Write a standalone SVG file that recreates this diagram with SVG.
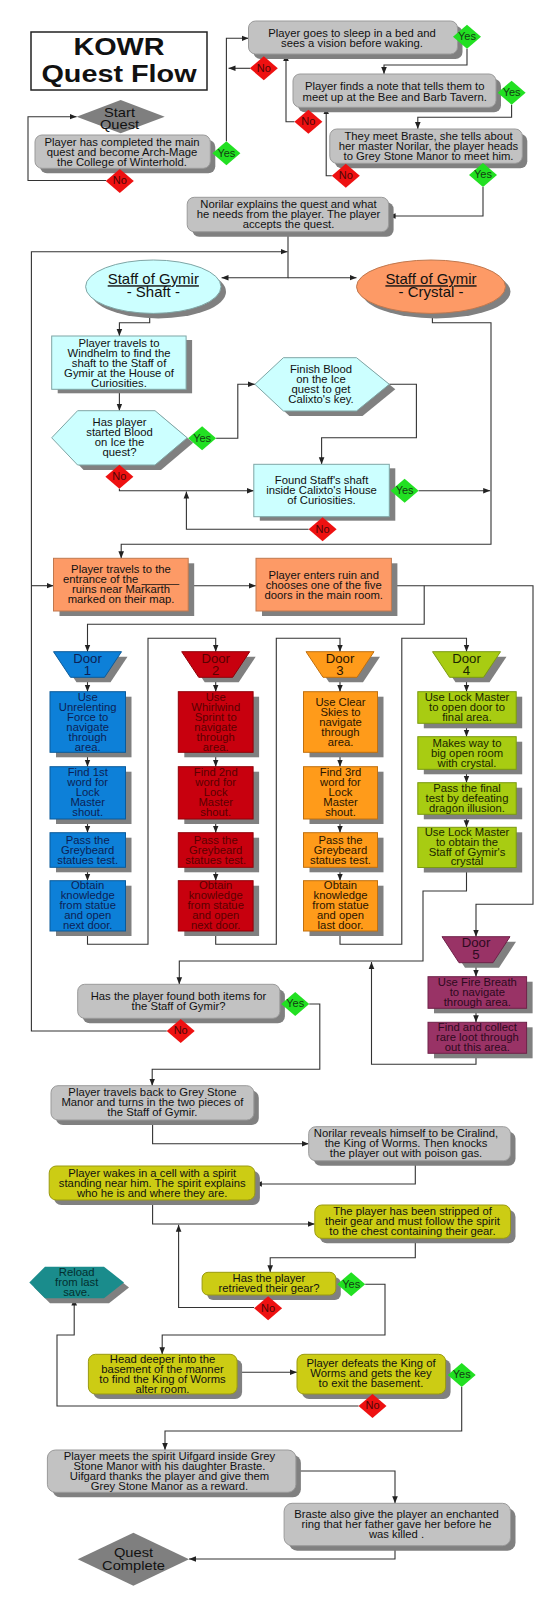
<svg xmlns="http://www.w3.org/2000/svg" width="559" height="1600" viewBox="0 0 559 1600">
<defs>
<marker id="ah" viewBox="0 0 10 10" refX="10" refY="5" markerWidth="7" markerHeight="7" orient="auto" markerUnits="userSpaceOnUse"><path d="M0,1 L10,5 L0,9 z" fill="#222"/></marker>
<style>
.ln{fill:none;stroke:#333;stroke-width:1.1;marker-end:url(#ah)}
.sh{fill:#808080}
.gray{fill:#c2c2c2;stroke:#9a9a9a;stroke-width:1}
.yel{fill:#cccc14;stroke:#9a9a10;stroke-width:1}
.cyan{fill:#ccffff;stroke:#7fa5a5;stroke-width:1}
.org{fill:#fd9a66;stroke:#c0784e;stroke-width:1}
.blue{fill:#0d80d8;stroke:#0a5a9a;stroke-width:1}
.red{fill:#c8000e;stroke:#900008;stroke-width:1}
.ora{fill:#ff9b1a;stroke:#c07010;stroke-width:1}
.lim{fill:#a8cc12;stroke:#7a9a10;stroke-width:1}
.pur{fill:#993366;stroke:#6e2249;stroke-width:1}
.teal{fill:#1a8c8c}
.dk{fill:#7f7f7f}
.yes{fill:#22e022}
.no{fill:#ee1111}
.t{font-family:"Liberation Sans",Arial,sans-serif;font-size:10px;text-anchor:middle;fill:#111}
.td{font-family:"Liberation Sans",Arial,sans-serif;font-size:12px;text-anchor:middle}
.tb{fill:#0c1f55}.tr{fill:#5a0000}.to{fill:#2a1500}.tl{fill:#1a2600}.tp{fill:#2e0a20}.tt{fill:#032f2f}
.ty{fill:#123d12}.tn{fill:#4d0606}
.big{font-family:"Liberation Sans",Arial,sans-serif;font-size:24px;font-weight:bold;text-anchor:middle;fill:#111}
.mid{font-family:"Liberation Sans",Arial,sans-serif;font-size:13px;text-anchor:middle;fill:#111}
.ell{font-family:"Liberation Sans",Arial,sans-serif;font-size:14px;text-anchor:middle;fill:#111}
</style>
</defs>
<rect width="559" height="1600" fill="#ffffff"/>

<g id="connectors">
<path class="ln" d="M106 180.5 H28 V116.7 H76.6"/>
<path class="ln" d="M226.4 141.3 V38.3 H248.5"/>
<path class="ln" d="M250 68.3 H228.5"/>
<path class="ln" d="M467 48.7 V65 H384 V74"/>
<path class="ln" d="M294.4 121.7 H286 V54"/>
<path class="ln" d="M511.6 104.7 V117.3 H417.8 V129"/>
<path class="ln" d="M331.8 175.7 H326.2 V107.3"/>
<path class="ln" d="M483 187 V216 H388.6"/>
<path class="ln" d="M288 231.7 V277.7 H221.5"/>
<path class="ln" d="M288 277.7 H356.5"/>
<path class="ln" d="M166.7 1031 H31.4 V251.7 H287.5"/>
<path class="ln" d="M31.4 585.7 H53.5"/>
<path class="ln" d="M149.7 313.4 V322.7 H119.4 V336"/>
<path class="ln" d="M119.4 389.3 V410.7"/>
<path class="ln" d="M216.1 438.3 H237.8 V384.3 H254.9"/>
<path class="ln" d="M389.3 384.3 H416.4 V437.7 H321.6 V464.3"/>
<path class="ln" d="M119.4 488.7 V490.7 H253.8"/>
<path class="ln" d="M418.6 490.7 H490.2"/>
<path class="ln" d="M308.6 529.3 H186.4 V491.5"/>
<path class="ln" d="M432.4 313.4 V322.7 H491 V544.3 H121.2 V558.3"/>
<path class="ln" d="M188.2 585.7 H256"/>
<path class="ln" d="M391.4 585.7 H533 V904.3 H476 V936.7"/>
<path class="ln" d="M424.2 585.7 V624.3 H87.5 V651.7"/>
<path class="ln" d="M87.5 677.3 V691.7"/>
<path class="ln" d="M87.5 752.3 V766.7"/>
<path class="ln" d="M87.5 819 V832.7"/>
<path class="ln" d="M87.5 867.3 V880.7"/>
<path class="ln" d="M87.5 931 V944.3 H148 V638.3 H215.7 V651.7"/>
<path class="ln" d="M215.7 677.3 V691.7"/>
<path class="ln" d="M215.7 752.3 V766.7"/>
<path class="ln" d="M215.7 819 V832.7"/>
<path class="ln" d="M215.7 867.3 V880.7"/>
<path class="ln" d="M215.7 931 V944.3 H276.3 V638.3 H340 V651.7"/>
<path class="ln" d="M340 677.3 V691.7"/>
<path class="ln" d="M340 752.3 V766.7"/>
<path class="ln" d="M340 819 V832.7"/>
<path class="ln" d="M340 867.3 V880.7"/>
<path class="ln" d="M340 931 V944.3 H401.8 V638.3 H466.5 V651.7"/>
<path class="ln" d="M466.5 677.3 V691.7"/>
<path class="ln" d="M466.5 723.3 V736.7"/>
<path class="ln" d="M466.5 769.3 V782.7"/>
<path class="ln" d="M466.5 814.3 V827.3"/>
<path class="ln" d="M466.5 867.5 V891 H423 V961 H179.3 V984.3"/>
<path class="ln" d="M476 962.7 V976.7"/>
<path class="ln" d="M476 1008.3 V1022.3"/>
<path class="ln" d="M476 1053.3 V1064.3 H371.5 V962"/>
<path class="ln" d="M309.2 1004 H319.8 V1069.3 H152.2 V1085.7"/>
<path class="ln" d="M152.6 1120 V1143.7 H308.7"/>
<path class="ln" d="M415.3 1160.7 V1184 H254.9"/>
<path class="ln" d="M152.6 1200 V1224 H314.8"/>
<path class="ln" d="M415.3 1238.3 V1257.7 H270.2 V1272.3"/>
<path class="ln" d="M365.2 1284.3 H385 V1335 H162.2 V1354.3"/>
<path class="ln" d="M254.1 1307.5 H178.6 V1224.8"/>
<path class="ln" d="M237.1 1372.3 H297"/>
<path class="ln" d="M358.5 1406 H57 V1335 H74.2 V1298.5"/>
<path class="ln" d="M461.7 1387 V1431 H165 V1450"/>
<path class="ln" d="M295.9 1471 H395 V1503.3"/>
<path class="ln" d="M395 1545.7 V1559 H189"/>
</g>

<g id="title">
<rect x="31" y="32" width="176" height="58" fill="#ffffff" stroke="#222" stroke-width="1.5"/>
<text class="big" transform="translate(119 0) scale(1.2 1)"><tspan x="0" y="55">KOWR</tspan><tspan x="0" y="82">Quest Flow</tspan></text>
</g>

<g id="start">
<polygon class="dk" points="76.6,116.7 120.7,100 164.7,116.7 120.7,133.3"/>
<text class="mid" transform="translate(119.5 0) scale(1.13 1)"><tspan x="0" y="117">Start</tspan><tspan x="0" y="129.5">Quest</tspan></text>
</g>

<g id="n-complete">
<rect class="sh" x="40" y="140" width="175.3" height="33.3" rx="7"/>
<rect class="gray" x="35" y="135" width="175.3" height="33.3" rx="7"/>
<text class="t" transform="translate(122 0) scale(1.13 1)"><tspan x="0" y="145.8">Player has completed the main</tspan><tspan x="0" y="155.8">quest and become Arch-Mage</tspan><tspan x="0" y="165.8">the College of Winterhold.</tspan></text>
</g>

<g id="n-sleep">
<rect class="sh" x="253.5" y="26" width="209" height="33" rx="7"/>
<rect class="gray" x="248.5" y="21" width="209" height="33" rx="7"/>
<text class="t" transform="translate(352 0) scale(1.13 1)"><tspan x="0" y="36.8">Player goes to sleep in a bed and</tspan><tspan x="0" y="46.8">sees a vision before waking.</tspan></text>
</g>

<g id="n-note">
<rect class="sh" x="298" y="79" width="203" height="33.3" rx="7"/>
<rect class="gray" x="293" y="74" width="203" height="33.3" rx="7"/>
<text class="t" transform="translate(394.7 0) scale(1.13 1)"><tspan x="0" y="90.4">Player finds a note that tells them to</tspan><tspan x="0" y="100.6">meet up at the Bee and Barb Tavern.</tspan></text>
</g>

<g id="n-braste">
<rect class="sh" x="334.8" y="134" width="192.5" height="34.3" rx="7"/>
<rect class="gray" x="329.8" y="129" width="192.5" height="34.3" rx="7"/>
<text class="t" transform="translate(428.5 0) scale(1.13 1)"><tspan x="0" y="140.2">They meet Braste, she tells about</tspan><tspan x="0" y="150.2">her master Norilar, the player heads</tspan><tspan x="0" y="160.2">to Grey Stone Manor to meet him.</tspan></text>
</g>

<g id="n-norilar">
<rect class="sh" x="192.2" y="202.3" width="201.4" height="34.4" rx="7"/>
<rect class="gray" x="187.2" y="197.3" width="201.4" height="34.4" rx="7"/>
<text class="t" transform="translate(288.5 0) scale(1.13 1)"><tspan x="0" y="207.6">Norilar explains the quest and what</tspan><tspan x="0" y="217.8">he needs from the player. The player</tspan><tspan x="0" y="227.8">accepts the quest.</tspan></text>
</g>

<g id="n-shaft">
<ellipse class="sh" cx="158.3" cy="291.7" rx="67.7" ry="26.7"/>
<ellipse class="cyan" cx="153.3" cy="286.7" rx="67.7" ry="26.7"/>
<text class="ell" transform="translate(153.3 0) scale(1.07 1)"><tspan x="0" y="284.3" text-decoration="underline">Staff of Gymir</tspan><tspan x="0" y="297.5">- Shaft -</tspan></text>
</g>

<g id="n-crystal">
<ellipse class="sh" cx="436" cy="291.7" rx="74.5" ry="26.7"/>
<ellipse class="org" cx="431" cy="286.7" rx="74.5" ry="26.7"/>
<text class="ell" transform="translate(431 0) scale(1.07 1)"><tspan x="0" y="284.3" text-decoration="underline">Staff of Gymir</tspan><tspan x="0" y="297.5">- Crystal -</tspan></text>
</g>

<g id="n-windhelm">
<rect class="sh" x="57.7" y="340" width="134.4" height="53.3"/>
<rect class="cyan" x="51.7" y="336" width="134.4" height="53.3"/>
<text class="t" transform="translate(119 0) scale(1.13 1)"><tspan x="0" y="346.8">Player travels to</tspan><tspan x="0" y="356.8">Windhelm to find the</tspan><tspan x="0" y="366.8">shaft to the Staff of</tspan><tspan x="0" y="376.8">Gymir at the House of</tspan><tspan x="0" y="386.8">Curiosities.</tspan></text>
</g>

<g id="n-hasplayer">
<polygon class="sh" points="57.7,442.8 83.6,415.7 161,415.7 193.2,442.8 161,470 83.6,470"/>
<polygon class="cyan" points="51.7,437.8 77.6,410.7 155,410.7 187.2,437.8 155,465 77.6,465"/>
<text class="t" transform="translate(119.5 0) scale(1.13 1)"><tspan x="0" y="426.2">Has player</tspan><tspan x="0" y="436.2">started Blood</tspan><tspan x="0" y="446.2">on Ice the</tspan><tspan x="0" y="456.2">quest?</tspan></text>
</g>

<g id="n-finish">
<polygon class="sh" points="260.9,389.3 289.4,362.7 362.5,362.7 395.3,389.3 362.5,416 289.4,416"/>
<polygon class="cyan" points="254.9,384.3 283.4,357.7 356.5,357.7 389.3,384.3 356.5,411 283.4,411"/>
<text class="t" transform="translate(321 0) scale(1.13 1)"><tspan x="0" y="372.8">Finish Blood</tspan><tspan x="0" y="382.8">on the Ice</tspan><tspan x="0" y="392.8">quest to get</tspan><tspan x="0" y="402.8">Calixto's key.</tspan></text>
</g>

<g id="n-found">
<rect class="sh" x="259.8" y="468.3" width="135.5" height="52.4"/>
<rect class="cyan" x="253.8" y="464.3" width="135.5" height="52.4"/>
<text class="t" transform="translate(321.5 0) scale(1.13 1)"><tspan x="0" y="484.2">Found Staff's shaft</tspan><tspan x="0" y="494.2">inside Calixto's House</tspan><tspan x="0" y="504.2">of Curiosities.</tspan></text>
</g>

<g id="n-travel-ruins">
<rect class="sh" x="59.5" y="563.3" width="134.7" height="52.7"/>
<rect class="org" x="53.5" y="558.3" width="134.7" height="52.7"/>
<text class="t" transform="translate(121 0) scale(1.13 1)"><tspan x="0" y="573.5">Player travels to the</tspan><tspan x="0" y="583.5">entrance of the ______</tspan><tspan x="0" y="593.5">ruins near Markarth</tspan><tspan x="0" y="603.5">marked on their map.</tspan></text>
</g>

<g id="n-enter-ruin">
<rect class="sh" x="262" y="563.3" width="135.4" height="52.7"/>
<rect class="org" x="256" y="558.3" width="135.4" height="52.7"/>
<text class="t" transform="translate(323.7 0) scale(1.13 1)"><tspan x="0" y="579.2">Player enters ruin and</tspan><tspan x="0" y="589.2">chooses one of the five</tspan><tspan x="0" y="599.2">doors in the main room.</tspan></text>
</g>

<g id="door1">
<polygon class="sh" points="59.5,656.7 127.5,656.7 110.5,682.3 76.5,682.3"/>
<polygon class="blue" points="53.5,651.7 121.5,651.7 104.5,677.3 70.5,677.3"/>
<text class="td tb" transform="translate(87.5 0) scale(1.1 1)"><tspan x="0" y="663.2">Door</tspan><tspan x="0" y="674.9">1</tspan></text>
</g>
<g id="d1-b1">
<rect class="sh" x="56" y="696.7" width="75.5" height="60.6"/>
<rect class="blue" x="50" y="691.7" width="75.5" height="60.6"/>
<text class="t tb" transform="translate(87.7 0) scale(1.13 1)"><tspan x="0" y="700.8">Use</tspan><tspan x="0" y="710.8">Unrelenting</tspan><tspan x="0" y="720.8">Force to</tspan><tspan x="0" y="730.8">navigate</tspan><tspan x="0" y="740.8">through</tspan><tspan x="0" y="750.8">area.</tspan></text>
</g>
<g id="d1-b2">
<rect class="sh" x="56" y="771.7" width="75.5" height="52.3"/>
<rect class="blue" x="50" y="766.7" width="75.5" height="52.3"/>
<text class="t tb" transform="translate(87.7 0) scale(1.13 1)"><tspan x="0" y="776.2">Find 1st</tspan><tspan x="0" y="786.2">word for</tspan><tspan x="0" y="796.2">Lock</tspan><tspan x="0" y="806.2">Master</tspan><tspan x="0" y="816.2">shout.</tspan></text>
</g>
<g id="d1-b3">
<rect class="sh" x="56" y="837.7" width="75.5" height="34.6"/>
<rect class="blue" x="50" y="832.7" width="75.5" height="34.6"/>
<text class="t tb" transform="translate(87.7 0) scale(1.13 1)"><tspan x="0" y="844">Pass the</tspan><tspan x="0" y="854">Greybeard</tspan><tspan x="0" y="864">statues test.</tspan></text>
</g>
<g id="d1-b4">
<rect class="sh" x="56" y="885.7" width="75.5" height="50.3"/>
<rect class="blue" x="50" y="880.7" width="75.5" height="50.3"/>
<text class="t tb" transform="translate(87.7 0) scale(1.13 1)"><tspan x="0" y="889.5">Obtain</tspan><tspan x="0" y="899.5">knowledge</tspan><tspan x="0" y="909.5">from statue</tspan><tspan x="0" y="919.5">and open</tspan><tspan x="0" y="929.5">next door.</tspan></text>
</g>

<g id="door2">
<polygon class="sh" points="187.7,656.7 255.7,656.7 238.7,682.3 204.7,682.3"/>
<polygon class="red" points="181.7,651.7 249.7,651.7 232.7,677.3 198.7,677.3"/>
<text class="td tr" transform="translate(215.7 0) scale(1.1 1)"><tspan x="0" y="663.2">Door</tspan><tspan x="0" y="674.9">2</tspan></text>
</g>
<g id="d2-b1">
<rect class="sh" x="184.3" y="696.7" width="74.8" height="60.6"/>
<rect class="red" x="178.3" y="691.7" width="74.8" height="60.6"/>
<text class="t tr" transform="translate(215.7 0) scale(1.13 1)"><tspan x="0" y="700.8">Use</tspan><tspan x="0" y="710.8">Whirlwind</tspan><tspan x="0" y="720.8">Sprint to</tspan><tspan x="0" y="730.8">navigate</tspan><tspan x="0" y="740.8">through</tspan><tspan x="0" y="750.8">area.</tspan></text>
</g>
<g id="d2-b2">
<rect class="sh" x="184.3" y="771.7" width="74.8" height="52.3"/>
<rect class="red" x="178.3" y="766.7" width="74.8" height="52.3"/>
<text class="t tr" transform="translate(215.7 0) scale(1.13 1)"><tspan x="0" y="776.2">Find 2nd</tspan><tspan x="0" y="786.2">word for</tspan><tspan x="0" y="796.2">Lock</tspan><tspan x="0" y="806.2">Master</tspan><tspan x="0" y="816.2">shout.</tspan></text>
</g>
<g id="d2-b3">
<rect class="sh" x="184.3" y="837.7" width="74.8" height="34.6"/>
<rect class="red" x="178.3" y="832.7" width="74.8" height="34.6"/>
<text class="t tr" transform="translate(215.7 0) scale(1.13 1)"><tspan x="0" y="844">Pass the</tspan><tspan x="0" y="854">Greybeard</tspan><tspan x="0" y="864">statues test.</tspan></text>
</g>
<g id="d2-b4">
<rect class="sh" x="184.3" y="885.7" width="74.8" height="50.3"/>
<rect class="red" x="178.3" y="880.7" width="74.8" height="50.3"/>
<text class="t tr" transform="translate(215.7 0) scale(1.13 1)"><tspan x="0" y="889.5">Obtain</tspan><tspan x="0" y="899.5">knowledge</tspan><tspan x="0" y="909.5">from statue</tspan><tspan x="0" y="919.5">and open</tspan><tspan x="0" y="929.5">next door.</tspan></text>
</g>

<g id="door3">
<polygon class="sh" points="312,656.7 380,656.7 363,682.3 329,682.3"/>
<polygon class="ora" points="306,651.7 374,651.7 357,677.3 323,677.3"/>
<text class="td to" transform="translate(340 0) scale(1.1 1)"><tspan x="0" y="663.2">Door</tspan><tspan x="0" y="674.9">3</tspan></text>
</g>
<g id="d3-b1">
<rect class="sh" x="309.5" y="696.7" width="74" height="60.6"/>
<rect class="ora" x="303.5" y="691.7" width="74" height="60.6"/>
<text class="t to" transform="translate(340.5 0) scale(1.13 1)"><tspan x="0" y="705.8">Use Clear</tspan><tspan x="0" y="715.8">Skies to</tspan><tspan x="0" y="725.8">navigate</tspan><tspan x="0" y="735.8">through</tspan><tspan x="0" y="745.8">area.</tspan></text>
</g>
<g id="d3-b2">
<rect class="sh" x="309.5" y="771.7" width="74" height="52.3"/>
<rect class="ora" x="303.5" y="766.7" width="74" height="52.3"/>
<text class="t to" transform="translate(340.5 0) scale(1.13 1)"><tspan x="0" y="776.2">Find 3rd</tspan><tspan x="0" y="786.2">word for</tspan><tspan x="0" y="796.2">Lock</tspan><tspan x="0" y="806.2">Master</tspan><tspan x="0" y="816.2">shout.</tspan></text>
</g>
<g id="d3-b3">
<rect class="sh" x="309.5" y="837.7" width="74" height="34.6"/>
<rect class="ora" x="303.5" y="832.7" width="74" height="34.6"/>
<text class="t to" transform="translate(340.5 0) scale(1.13 1)"><tspan x="0" y="844">Pass the</tspan><tspan x="0" y="854">Greybeard</tspan><tspan x="0" y="864">statues test.</tspan></text>
</g>
<g id="d3-b4">
<rect class="sh" x="309.5" y="885.7" width="74" height="50.3"/>
<rect class="ora" x="303.5" y="880.7" width="74" height="50.3"/>
<text class="t to" transform="translate(340.5 0) scale(1.13 1)"><tspan x="0" y="889.5">Obtain</tspan><tspan x="0" y="899.5">knowledge</tspan><tspan x="0" y="909.5">from statue</tspan><tspan x="0" y="919.5">and open</tspan><tspan x="0" y="929.5">last door.</tspan></text>
</g>

<g id="door4">
<polygon class="sh" points="438.5,656.7 506.5,656.7 489.5,682.3 455.5,682.3"/>
<polygon class="lim" points="432.5,651.7 500.5,651.7 483.5,677.3 449.5,677.3"/>
<text class="td tl" transform="translate(466.5 0) scale(1.1 1)"><tspan x="0" y="663.2">Door</tspan><tspan x="0" y="674.9">4</tspan></text>
</g>
<g id="d4-b1">
<rect class="sh" x="423.8" y="696.7" width="98.4" height="31.6"/>
<rect class="lim" x="417.8" y="691.7" width="98.4" height="31.6"/>
<text class="t tl" transform="translate(467 0) scale(1.13 1)"><tspan x="0" y="701">Use Lock Master</tspan><tspan x="0" y="711">to open door to</tspan><tspan x="0" y="721">final area.</tspan></text>
</g>
<g id="d4-b2">
<rect class="sh" x="423.8" y="741.7" width="98.4" height="32.6"/>
<rect class="lim" x="417.8" y="736.7" width="98.4" height="32.6"/>
<text class="t tl" transform="translate(467 0) scale(1.13 1)"><tspan x="0" y="746.8">Makes way to</tspan><tspan x="0" y="756.8">big open room</tspan><tspan x="0" y="766.8">with crystal.</tspan></text>
</g>
<g id="d4-b3">
<rect class="sh" x="423.8" y="787.7" width="98.4" height="31.6"/>
<rect class="lim" x="417.8" y="782.7" width="98.4" height="31.6"/>
<text class="t tl" transform="translate(467 0) scale(1.13 1)"><tspan x="0" y="791.8">Pass the final</tspan><tspan x="0" y="801.8">test by defeating</tspan><tspan x="0" y="811.8">dragon illusion.</tspan></text>
</g>
<g id="d4-b4">
<rect class="sh" x="423.8" y="832.3" width="98.4" height="40.2"/>
<rect class="lim" x="417.8" y="827.3" width="98.4" height="40.2"/>
<text class="t tl" transform="translate(467 0) scale(1.13 1)"><tspan x="0" y="835.8">Use Lock Master</tspan><tspan x="0" y="845.8">to obtain the</tspan><tspan x="0" y="855.8">Staff of Gymir's</tspan><tspan x="0" y="865.3">crystal</tspan></text>
</g>

<g id="door5">
<polygon class="sh" points="448,941.7 516,941.7 499,967.7 465,967.7"/>
<polygon class="pur" points="442,936.7 510,936.7 493,962.7 459,962.7"/>
<text class="td tp" transform="translate(476 0) scale(1.1 1)"><tspan x="0" y="947.5">Door</tspan><tspan x="0" y="959.2">5</tspan></text>
</g>
<g id="d5-b1">
<rect class="sh" x="434" y="981.7" width="98.6" height="31.6"/>
<rect class="pur" x="428" y="976.7" width="98.6" height="31.6"/>
<text class="t tp" transform="translate(477.3 0) scale(1.13 1)"><tspan x="0" y="985.8">Use Fire Breath</tspan><tspan x="0" y="995.8">to navigate</tspan><tspan x="0" y="1005.8">through area.</tspan></text>
</g>
<g id="d5-b2">
<rect class="sh" x="434" y="1027.3" width="98.6" height="31"/>
<rect class="pur" x="428" y="1022.3" width="98.6" height="31"/>
<text class="t tp" transform="translate(477.3 0) scale(1.13 1)"><tspan x="0" y="1031.2">Find and collect</tspan><tspan x="0" y="1041.2">rare loot through</tspan><tspan x="0" y="1051.2">out this area.</tspan></text>
</g>

<g id="n-bothitems">
<rect class="sh" x="82.7" y="989.3" width="202.2" height="34" rx="7"/>
<rect class="gray" x="77.7" y="984.3" width="202.2" height="34" rx="7"/>
<text class="t" transform="translate(178.5 0) scale(1.13 1)"><tspan x="0" y="1000.2">Has the player found both items for</tspan><tspan x="0" y="1010.2">the Staff of Gymir?</tspan></text>
</g>

<g id="n-travelback">
<rect class="sh" x="56" y="1090.7" width="202.8" height="34.3" rx="7"/>
<rect class="gray" x="51" y="1085.7" width="202.8" height="34.3" rx="7"/>
<text class="t" transform="translate(152.4 0) scale(1.13 1)"><tspan x="0" y="1096.2">Player travels back to Grey Stone</tspan><tspan x="0" y="1106.2">Manor and turns in the two pieces of</tspan><tspan x="0" y="1116.2">the Staff of Gymir.</tspan></text>
</g>

<g id="n-reveal">
<rect class="sh" x="313.7" y="1131.7" width="201.8" height="34" rx="7"/>
<rect class="gray" x="308.7" y="1126.7" width="201.8" height="34" rx="7"/>
<text class="t" transform="translate(406 0) scale(1.13 1)"><tspan x="0" y="1136.8">Norilar reveals himself to be Ciralind,</tspan><tspan x="0" y="1146.8">the King of Worms.  Then knocks</tspan><tspan x="0" y="1156.8">the player out with poison gas.</tspan></text>
</g>

<g id="n-wakes">
<rect class="sh" x="54.2" y="1171" width="205.7" height="34" rx="7"/>
<rect class="yel" x="49.2" y="1166" width="205.7" height="34" rx="7"/>
<text class="t" transform="translate(152.2 0) scale(1.13 1)"><tspan x="0" y="1176.8">Player wakes in a cell with a spirit</tspan><tspan x="0" y="1186.8">standing near him. The spirit explains</tspan><tspan x="0" y="1196.8">who he is and where they are.</tspan></text>
</g>

<g id="n-stripped">
<rect class="sh" x="319.8" y="1210" width="195.7" height="33.3" rx="7"/>
<rect class="yel" x="314.8" y="1205" width="195.7" height="33.3" rx="7"/>
<text class="t" transform="translate(412.5 0) scale(1.13 1)"><tspan x="0" y="1215.2">The player has been stripped of</tspan><tspan x="0" y="1225.2">their gear and must follow the spirit</tspan><tspan x="0" y="1235.2">to the chest containing their gear.</tspan></text>
</g>

<g id="n-retrieved">
<rect class="sh" x="207.1" y="1277.3" width="133.7" height="22.7" rx="6"/>
<rect class="yel" x="202.1" y="1272.3" width="133.7" height="22.7" rx="6"/>
<text class="t" transform="translate(269 0) scale(1.13 1)"><tspan x="0" y="1282.5">Has the player</tspan><tspan x="0" y="1292.5">retrieved their gear?</tspan></text>
</g>

<g id="n-reload">
<polygon class="sh" points="34.3,1287.5 50,1271.7 109,1271.7 129,1287.5 109,1303.3 50,1303.3"/>
<polygon class="teal" points="29.3,1282.5 45,1266.7 104,1266.7 124,1282.5 104,1298.3 45,1298.3"/>
<text class="t tt" transform="translate(76.7 0) scale(1.13 1)"><tspan x="0" y="1275.8">Reload</tspan><tspan x="0" y="1285.8">from last</tspan><tspan x="0" y="1295.8">save.</tspan></text>
</g>

<g id="n-head">
<rect class="sh" x="93.4" y="1359.3" width="148.7" height="39.7" rx="7"/>
<rect class="yel" x="88.4" y="1354.3" width="148.7" height="39.7" rx="7"/>
<text class="t" transform="translate(162.5 0) scale(1.13 1)"><tspan x="0" y="1362.8">Head deeper into the</tspan><tspan x="0" y="1372.8">basement of the manner</tspan><tspan x="0" y="1382.8">to find the King of Worms</tspan><tspan x="0" y="1392.8">alter room.</tspan></text>
</g>

<g id="n-defeats">
<rect class="sh" x="302" y="1359.3" width="148.6" height="39.7" rx="7"/>
<rect class="yel" x="297" y="1354.3" width="148.6" height="39.7" rx="7"/>
<text class="t" transform="translate(371 0) scale(1.13 1)"><tspan x="0" y="1367.5">Player defeats the King of</tspan><tspan x="0" y="1377.5">Worms and gets the key</tspan><tspan x="0" y="1387.5">to exit the basement.</tspan></text>
</g>

<g id="n-meets">
<rect class="sh" x="52.4" y="1455" width="248.5" height="42.3" rx="8"/>
<rect class="gray" x="47.4" y="1450" width="248.5" height="42.3" rx="8"/>
<text class="t" transform="translate(169.5 0) scale(1.13 1)"><tspan x="0" y="1460.2">Player meets the spirit Uifgard inside Grey</tspan><tspan x="0" y="1470.2">Stone Manor with his daughter Braste.</tspan><tspan x="0" y="1480.2">Uifgard thanks the player and give them</tspan><tspan x="0" y="1490.2">Grey Stone Manor as a reward.</tspan></text>
</g>

<g id="n-ring">
<rect class="sh" x="289.1" y="1508.3" width="226.4" height="42.4" rx="8"/>
<rect class="gray" x="284.1" y="1503.3" width="226.4" height="42.4" rx="8"/>
<text class="t" transform="translate(396.5 0) scale(1.13 1)"><tspan x="0" y="1518.5">Braste also give the player an enchanted</tspan><tspan x="0" y="1528.5">ring that her father gave her before he</tspan><tspan x="0" y="1538.5">was killed .</tspan></text>
</g>

<g id="complete">
<polygon class="dk" points="77.7,1559.2 133.4,1532.7 189,1559.2 133.4,1585.7"/>
<text class="mid" transform="translate(133.5 0) scale(1.13 1)"><tspan x="0" y="1557.2">Quest</tspan><tspan x="0" y="1570.2">Complete</tspan></text>
</g>

<g id="yes-complete"><polygon class="yes" points="212.4,153.3 226.4,141.3 240.4,153.3 226.4,165.3"/><text class="t ty" transform="translate(226.4 0) scale(1.1 1)"><tspan x="0" y="156.8">Yes</tspan></text></g>
<g id="no-complete"><polygon class="no" points="105.8,181 119.8,169 133.8,181 119.8,193"/><text class="t tn" transform="translate(119.8 0) scale(1.1 1)"><tspan x="0" y="184.5">No</tspan></text></g>
<g id="yes-sleep"><polygon class="yes" points="453,36.7 467,24.7 481,36.7 467,48.7"/><text class="t ty" transform="translate(467 0) scale(1.1 1)"><tspan x="0" y="40.2">Yes</tspan></text></g>
<g id="no-sleep"><polygon class="no" points="249.8,68.3 263.8,56.3 277.8,68.3 263.8,80.3"/><text class="t tn" transform="translate(263.8 0) scale(1.1 1)"><tspan x="0" y="71.8">No</tspan></text></g>
<g id="yes-note"><polygon class="yes" points="497.6,92.7 511.6,80.7 525.6,92.7 511.6,104.7"/><text class="t ty" transform="translate(511.6 0) scale(1.1 1)"><tspan x="0" y="96.2">Yes</tspan></text></g>
<g id="no-note"><polygon class="no" points="294.4,121.7 308.4,109.7 322.4,121.7 308.4,133.7"/><text class="t tn" transform="translate(308.4 0) scale(1.1 1)"><tspan x="0" y="125.2">No</tspan></text></g>
<g id="yes-braste"><polygon class="yes" points="469,175 483,163 497,175 483,187"/><text class="t ty" transform="translate(483 0) scale(1.1 1)"><tspan x="0" y="178.5">Yes</tspan></text></g>
<g id="no-braste"><polygon class="no" points="331.8,175.7 345.8,163.7 359.8,175.7 345.8,187.7"/><text class="t tn" transform="translate(345.8 0) scale(1.1 1)"><tspan x="0" y="179.2">No</tspan></text></g>
<g id="yes-hasplayer"><polygon class="yes" points="188.1,438.3 202.1,426.3 216.1,438.3 202.1,450.3"/><text class="t ty" transform="translate(202.1 0) scale(1.1 1)"><tspan x="0" y="441.8">Yes</tspan></text></g>
<g id="no-hasplayer"><polygon class="no" points="105.4,476.7 119.4,464.7 133.4,476.7 119.4,488.7"/><text class="t tn" transform="translate(119.4 0) scale(1.1 1)"><tspan x="0" y="480.2">No</tspan></text></g>
<g id="yes-found"><polygon class="yes" points="390.6,490.7 404.6,478.7 418.6,490.7 404.6,502.7"/><text class="t ty" transform="translate(404.6 0) scale(1.1 1)"><tspan x="0" y="494.2">Yes</tspan></text></g>
<g id="no-found"><polygon class="no" points="308.6,529.3 322.6,517.3 336.6,529.3 322.6,541.3"/><text class="t tn" transform="translate(322.6 0) scale(1.1 1)"><tspan x="0" y="532.8">No</tspan></text></g>
<g id="yes-bothitems"><polygon class="yes" points="281.2,1004 295.2,992 309.2,1004 295.2,1016"/><text class="t ty" transform="translate(295.2 0) scale(1.1 1)"><tspan x="0" y="1007.5">Yes</tspan></text></g>
<g id="no-bothitems"><polygon class="no" points="166.7,1031 180.7,1019 194.7,1031 180.7,1043"/><text class="t tn" transform="translate(180.7 0) scale(1.1 1)"><tspan x="0" y="1034.5">No</tspan></text></g>
<g id="yes-retrieved"><polygon class="yes" points="337.2,1284.3 351.2,1272.3 365.2,1284.3 351.2,1296.3"/><text class="t ty" transform="translate(351.2 0) scale(1.1 1)"><tspan x="0" y="1287.8">Yes</tspan></text></g>
<g id="no-retrieved"><polygon class="no" points="254.1,1308.3 268.1,1296.3 282.1,1308.3 268.1,1320.3"/><text class="t tn" transform="translate(268.1 0) scale(1.1 1)"><tspan x="0" y="1311.8">No</tspan></text></g>
<g id="yes-defeats"><polygon class="yes" points="447.7,1375 461.7,1363 475.7,1375 461.7,1387"/><text class="t ty" transform="translate(461.7 0) scale(1.1 1)"><tspan x="0" y="1378.5">Yes</tspan></text></g>
<g id="no-defeats"><polygon class="no" points="358.5,1406 372.5,1394 386.5,1406 372.5,1418"/><text class="t tn" transform="translate(372.5 0) scale(1.1 1)"><tspan x="0" y="1409.5">No</tspan></text></g>
</svg>
